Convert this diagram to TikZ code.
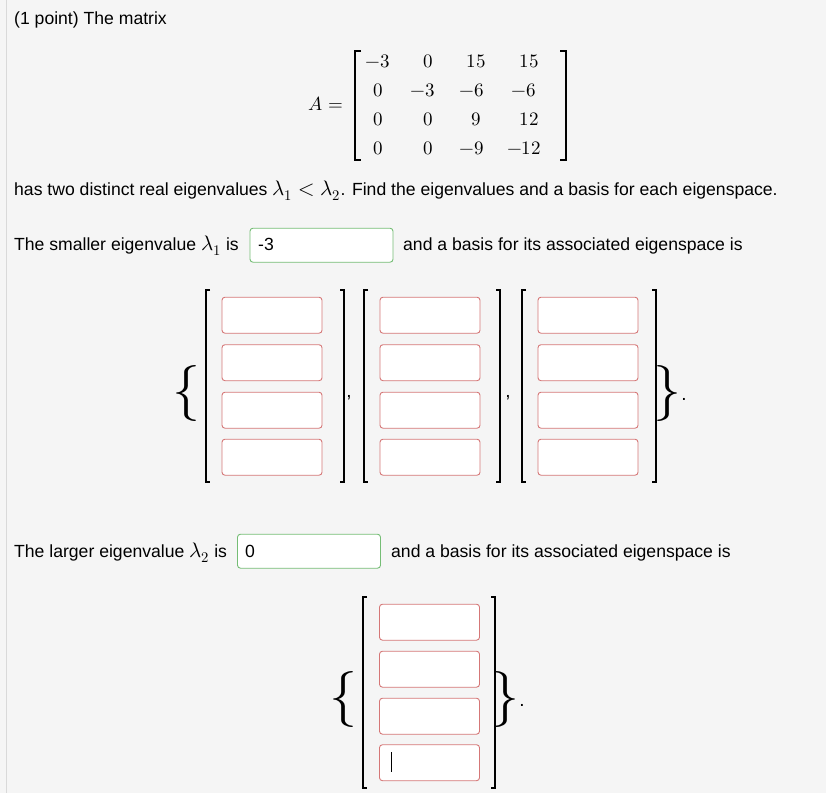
\documentclass[tikz,border=0pt]{standalone}
\usepackage{fontspec}
\setmainfont{Liberation Sans}
\usepackage{unicode-math}
\setmathfont{Latin Modern Math}
\begin{document}
\begin{tikzpicture}[x=1pt,y=-1pt,
  txt/.style={anchor=base west,inner sep=0pt,font=\fontsize{17.6}{20}\selectfont},
  num/.style={anchor=base,inner sep=0pt,font=\fontsize{19}{22}\selectfont},
  redbox/.style={draw=red!45!gray!60!pink,fill=white,rounded corners=3pt,minimum width=100pt,minimum height=36pt,inner sep=0pt,line width=0.9pt},
  greenbox/.style={draw=green!35!gray!80,fill=white,rounded corners=3pt,minimum width=143pt,minimum height=34pt,inner sep=0pt,line width=0.9pt},
  brk/.style={line width=1.6pt},
  brace/.style={inner sep=0pt,font=\fontsize{56}{56}\selectfont}]
\fill[gray!8] (0,0) rectangle (826,793);
\draw[gray!30] (6,0) -- (6,793);
\node[txt] (t1) at (14,24) {(1 point) The matrix};
% matrix
\node[num,anchor=base east] (Aeq) at (343,110) {$A=$};
\draw[brk] (361,51) -- (355,51) -- (355,160) -- (361,160);
\draw[brk] (560,51) -- (566,51) -- (566,160) -- (560,160);
\node[num] (m11) at (378,67) {$-3$};
\node[num] (m12) at (428,67) {$0$};
\node[num] (m13) at (476,67) {$15$};
\node[num] (m14) at (529,67) {$15$};
\node[num] (m21) at (378,96) {$0$};
\node[num] (m22) at (423,96) {$-3$};
\node[num] (m23) at (472,96) {$-6$};
\node[num] (m24) at (524,96) {$-6$};
\node[num] (m31) at (378,125) {$0$};
\node[num] (m32) at (428,125) {$0$};
\node[num] (m33) at (476,125) {$9$};
\node[num] (m34) at (529,125) {$12$};
\node[num] (m41) at (378,154) {$0$};
\node[num] (m42) at (428,154) {$0$};
\node[num] (m43) at (472,154) {$-9$};
\node[num] (m44) at (524,154) {$-12$};
\node[txt] (t2) at (14,195) {has two distinct real eigenvalues {\fontsize{21}{22}\selectfont$\lambda_1<\lambda_2$}. Find the eigenvalues and a basis for each eigenspace.};
% smaller
\node[txt] (t3) at (14,250) {The smaller eigenvalue {\fontsize{21}{22}\selectfont$\lambda_1$} is};
\node[greenbox] (g1) at (321.5,245) {};
\node[txt] at (258,250) {-3};
\node[txt] (t4) at (403,250) {and a basis for its associated eigenspace is};
\node[brace] (lb1) at (186,393) {$\{$};
\foreach \c/\xl/\xr in {1/206/344,2/364/500,3/522/656}{
  \draw[brk] (\xl+4,290) -- (\xl,290) -- (\xl,482) -- (\xl+4,482);
  \draw[brk] (\xr-4,290) -- (\xr,290) -- (\xr,482) -- (\xr-4,482);
}
\foreach \c/\x in {1/272,2/430,3/588}{
  \foreach \r/\y in {1/315,2/362.5,3/410,4/457}{
    \node[redbox] (b\c\r) at (\x,\y) {};
  }
}
\node[num] (c1) at (349,397) {,};
\node[num] (c2) at (508,397) {,};
\node[brace] (rb1) at (667,393) {$\}$};
\node[num] (p1) at (684,400) {.};
% larger
\node[txt] (t5) at (14,557) {The larger eigenvalue {\fontsize{21}{22}\selectfont$\lambda_2$} is};
\node[greenbox] (g2) at (309,551) {};
\node[txt] at (245,557) {0};
\node[txt] (t6) at (391,557) {and a basis for its associated eigenspace is};
\node[brace] (lb2) at (343,699) {$\{$};
\draw[brk] (367,597) -- (363,597) -- (363,788) -- (367,788);
\draw[brk] (491,597) -- (495,597) -- (495,788) -- (491,788);
\foreach \r/\y in {1/622,2/669,3/716,4/762.5}{
  \node[redbox] (d\r) at (429.5,\y) {};
}
\draw[line width=0.8pt] (391,752) -- (391,772);
\node[brace] (rb2) at (505,699) {$\}$};
\node[num] (p2) at (522,706) {.};
\end{tikzpicture}
\end{document}
